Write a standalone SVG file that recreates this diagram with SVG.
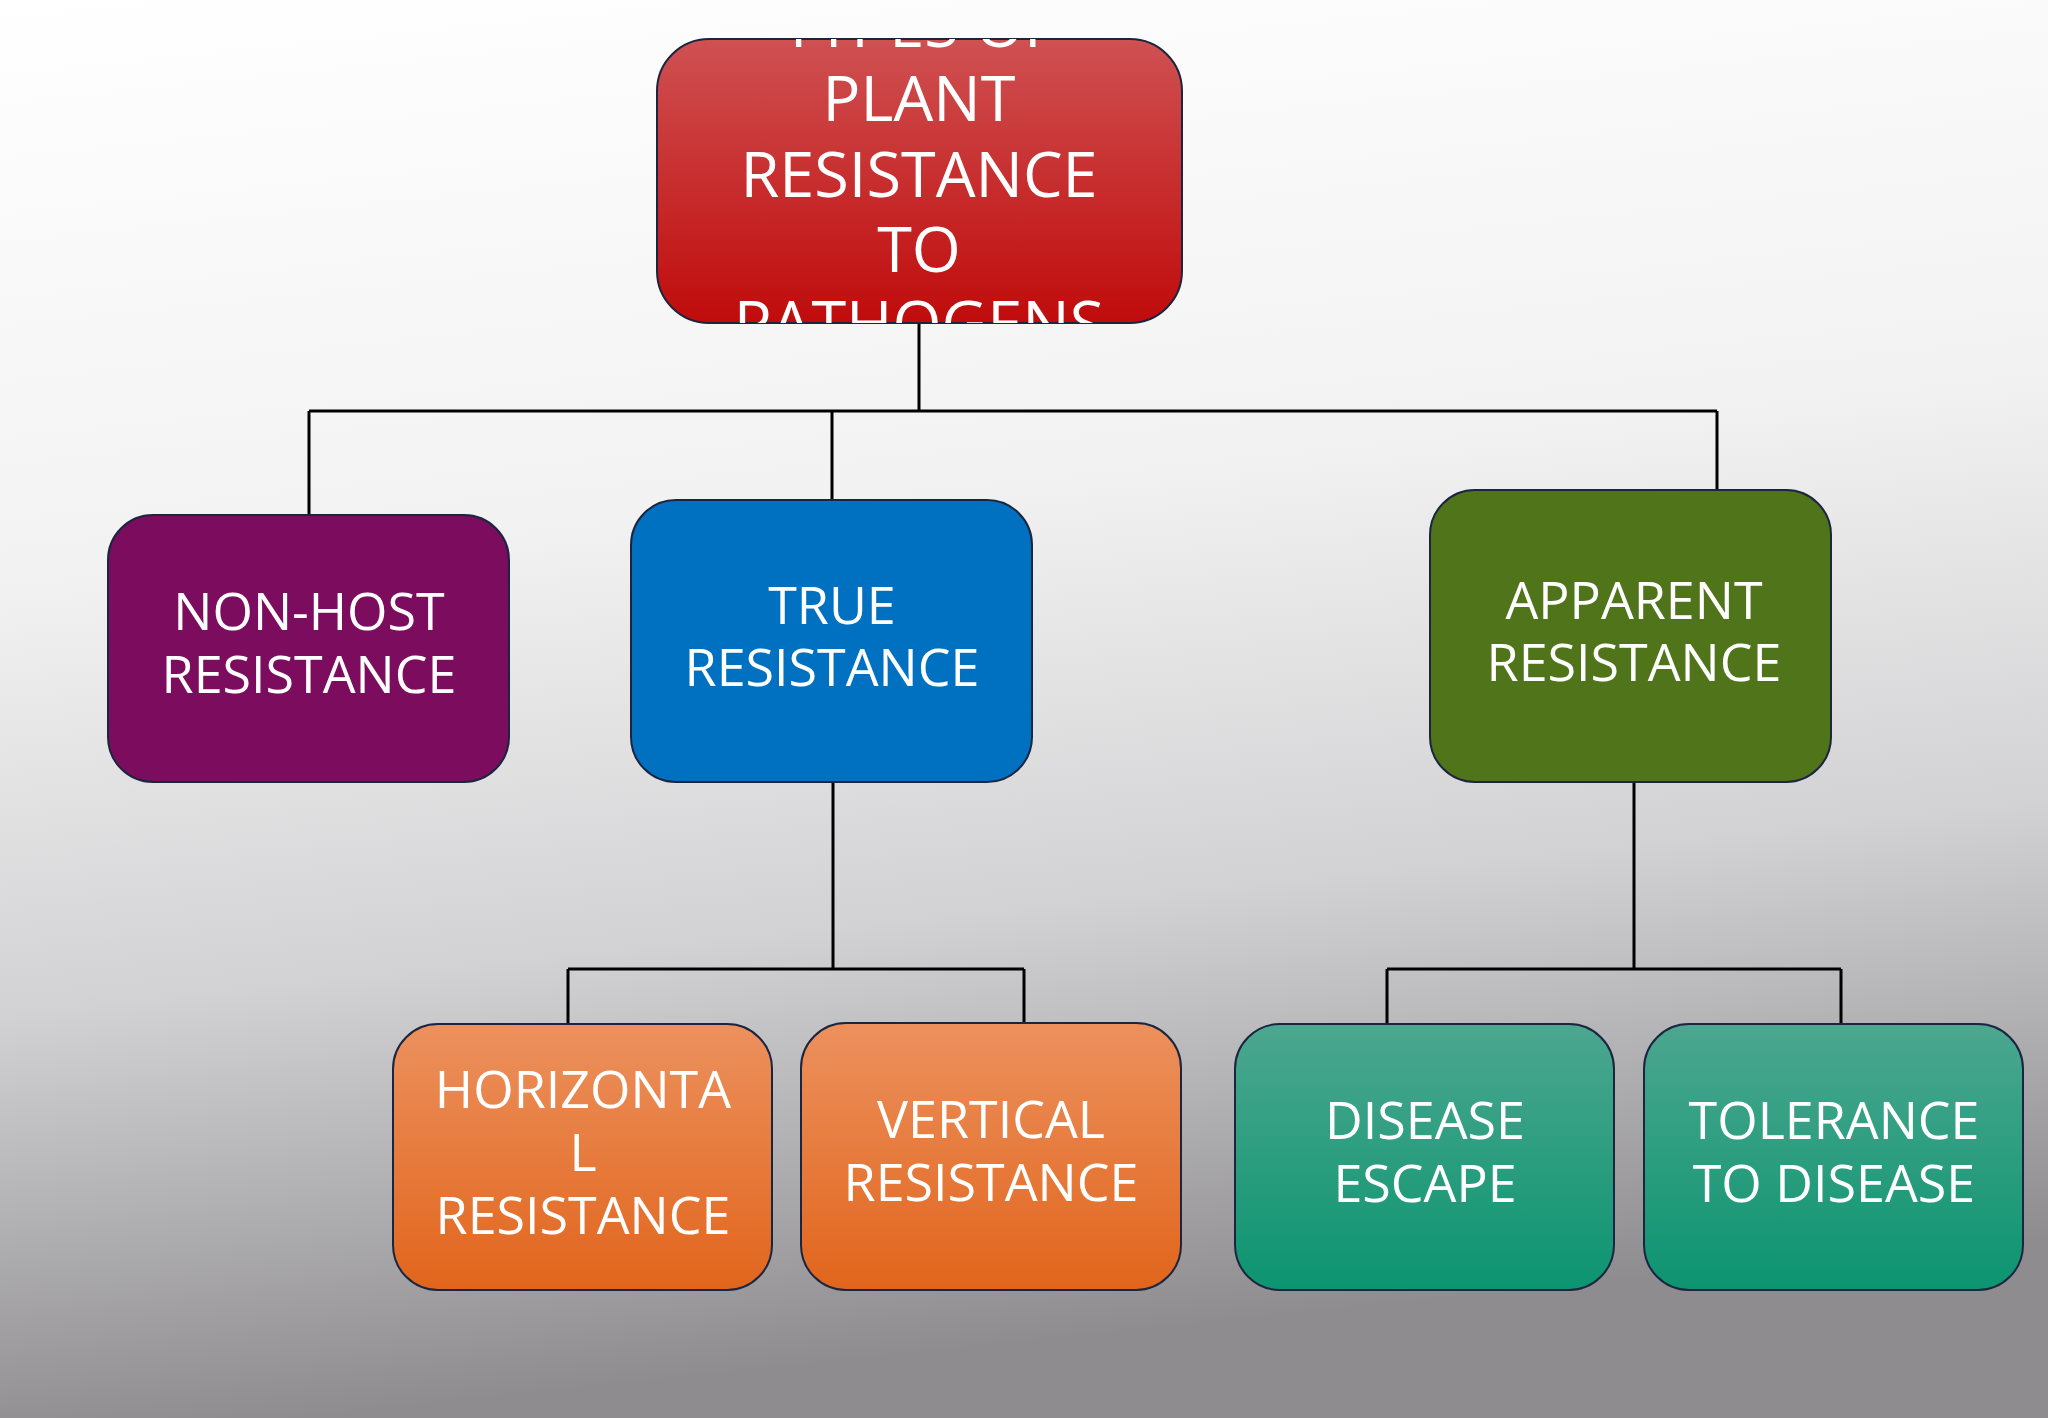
<svg xmlns="http://www.w3.org/2000/svg" width="2048" height="1418" viewBox="0 0 2048 1418">
<defs>
<linearGradient id="bg" x1="0" y1="0" x2="0.15" y2="1"><stop offset="0" stop-color="#ffffff"/><stop offset="0.4" stop-color="#f2f2f2"/><stop offset="0.7" stop-color="#d2d2d4"/><stop offset="1" stop-color="#8e8c8e"/></linearGradient>
<linearGradient id="red" x1="0" y1="0" x2="0" y2="1"><stop offset="0" stop-color="#cf5152"/><stop offset="1" stop-color="#c00b0b"/></linearGradient>
<linearGradient id="org" x1="0" y1="0" x2="0" y2="1"><stop offset="0" stop-color="#ec915e"/><stop offset="1" stop-color="#e1651c"/></linearGradient>
<linearGradient id="teal" x1="0" y1="0" x2="0" y2="1"><stop offset="0" stop-color="#4ca78f"/><stop offset="1" stop-color="#0c9470"/></linearGradient>
<clipPath id="tc"><rect x="657" y="39" width="525" height="284" rx="52"/></clipPath>
</defs>
<style>
.b{stroke:#1b2540;stroke-width:2}
.t{font-family:"Open Sans","DejaVu Sans",sans-serif;font-size:52px;fill:#fff;text-anchor:middle}
.h{font-size:63px}
.c{fill:none;stroke:#000;stroke-width:3}
</style>
<rect width="2048" height="1418" fill="url(#bg)"/>
<g id="connectors">
<path class="c" d="M919 323V411M309 411H1717M309 411V515M832 411V500M1717 411V490"/>
<path class="c" d="M833 782V969M568 969H1024M568 969V1024M1024 969V1023"/>
<path class="c" d="M1634 782V969M1387 969H1841M1387 969V1024M1841 969V1024"/>
</g>
<g id="root">
<rect class="b" x="657" y="39" width="525" height="284" rx="52" fill="url(#red)"/>
<g clip-path="url(#tc)" class="t h">
<text x="919" y="47">TYPES OF</text>
<text x="919" y="121">PLANT</text>
<text x="919" y="197">RESISTANCE</text>
<text x="919" y="272">TO</text>
<text x="919" y="346">PATHOGENS</text>
</g>
</g>
<g id="nonhost"><rect class="b" x="108" y="515" width="401" height="267" rx="45" fill="#7b0c5e"/>
<text class="t" x="309" y="630">NON-HOST</text><text class="t" x="309" y="693">RESISTANCE</text></g>
<g id="true"><rect class="b" x="631" y="500" width="401" height="282" rx="45" fill="#0070c0"/>
<text class="t" x="832" y="624">TRUE</text><text class="t" x="832" y="686">RESISTANCE</text></g>
<g id="apparent"><rect class="b" x="1430" y="490" width="401" height="292" rx="45" fill="#4f7419"/>
<text class="t" x="1634" y="619">APPARENT</text><text class="t" x="1634" y="681">RESISTANCE</text></g>
<g id="horizontal"><rect class="b" x="393" y="1024" width="379" height="266" rx="45" fill="url(#org)"/>
<text class="t" x="583" y="1108">HORIZONTA</text><text class="t" x="583" y="1171">L</text><text class="t" x="583" y="1234">RESISTANCE</text></g>
<g id="vertical"><rect class="b" x="801" y="1023" width="380" height="267" rx="45" fill="url(#org)"/>
<text class="t" x="991" y="1138">VERTICAL</text><text class="t" x="991" y="1201">RESISTANCE</text></g>
<g id="escape"><rect class="b" x="1235" y="1024" width="379" height="266" rx="45" fill="url(#teal)"/>
<text class="t" x="1425" y="1139">DISEASE</text><text class="t" x="1425" y="1202">ESCAPE</text></g>
<g id="tolerance"><rect class="b" x="1644" y="1024" width="379" height="266" rx="45" fill="url(#teal)"/>
<text class="t" x="1834" y="1139">TOLERANCE</text><text class="t" x="1834" y="1202">TO DISEASE</text></g>
</svg>
